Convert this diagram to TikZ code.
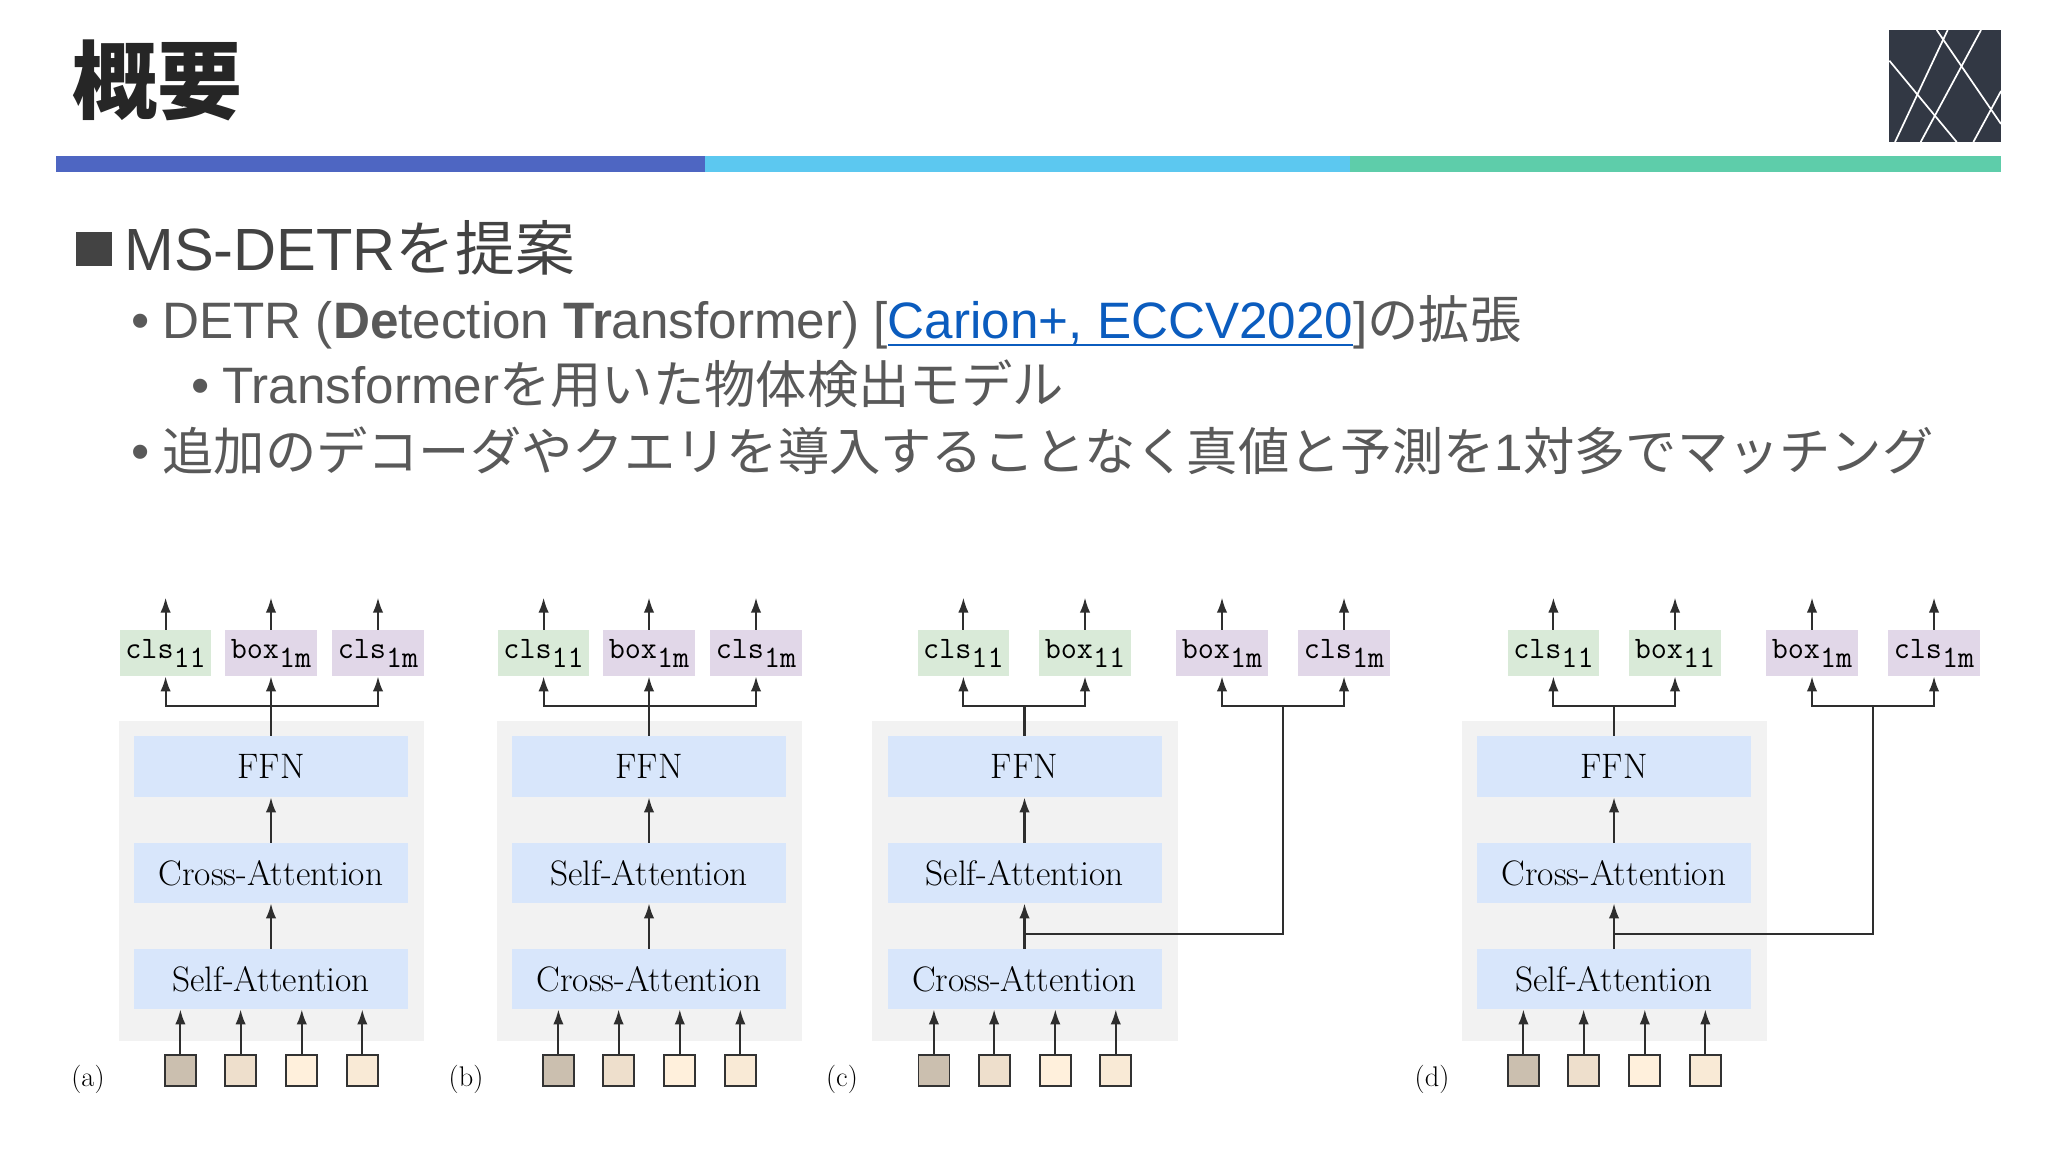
\documentclass[tikz,border=0pt]{standalone}
\usepackage{fontspec}
\usetikzlibrary{arrows.meta}
\setmainfont{Liberation Sans}
\newfontfamily\jp{Noto Sans CJK JP}
\newfontfamily\lm{Latin Modern Roman}
\newfontfamily\lmt{Latin Modern Mono}
\definecolor{txta}{HTML}{434343}
\definecolor{txtb}{HTML}{595959}
\definecolor{linkc}{HTML}{0B5CBE}
\definecolor{arrowc}{HTML}{2E2E2E}
\definecolor{blockc}{HTML}{D8E6FB}
\definecolor{greenc}{HTML}{D9EAD8}
\definecolor{purpc}{HTML}{E1D7E8}
\definecolor{sqa}{HTML}{CBBFAF}
\definecolor{sqb}{HTML}{EEDFCC}
\definecolor{sqc}{HTML}{FFF0DC}
\definecolor{sqd}{HTML}{F9EAD6}
\definecolor{bara}{HTML}{4E66C2}
\definecolor{barb}{HTML}{5CC8F0}
\definecolor{barc}{HTML}{5ECDAA}
\definecolor{logoc}{HTML}{323844}
\tikzset{
 x=0.5pt,y=-0.5pt,
 hdr/.style={inner sep=0pt,anchor=base west},
 conn/.style={draw=arrowc,line width=1.05pt},
 arr/.style={conn,-{Latex[length=7.5pt,width=5.2pt]}},
 panelbg/.style={fill=black!5,draw=none,inner sep=0pt,minimum width=152.6pt,minimum height=160pt},
 blk/.style={fill=blockc,inner sep=0pt,minimum width=137pt,text=black,font=\lm\fontsize{17.7}{17.7}\selectfont},
 lblg/.style={fill=greenc,inner sep=0pt,minimum width=45.6pt,minimum height=23pt,text=black},
 lblp/.style={fill=purpc,inner sep=0pt,minimum width=45.6pt,minimum height=23pt,text=black},
 sqbox/.style={draw=black!80,line width=0.9pt,inner sep=0pt,minimum width=15.5pt,minimum height=15.5pt},
 figcap/.style={inner sep=0pt,text=black,font=\lm\fontsize{14.2}{14.2}\selectfont},
 barbox/.style={inner sep=0pt,minimum height=8pt,anchor=north west},
}
\newcommand{\lbl}[2]{\raisebox{1pt}{\lmt\fontsize{15.6}{15.6}\selectfont #1}\raisebox{-3.5pt}{\lmt\fontsize{15.6}{15.6}\selectfont #2}}
\newcommand{\ulk}[1]{\vtop{\hbox{\smash{#1}}\kern2.9pt\hrule height 1pt}}
\newcommand{\stack}[5]{%
 \node[panelbg] (#1g) at (#2+271.5,881) {};
 \node[blk,minimum height=30.5pt] (#1f) at (#2+271,766.5) {#3};
 \node[blk,minimum height=30pt] (#1m) at (#2+271,873) {#4};
 \node[blk,minimum height=30pt] (#1b) at (#2+271,979) {#5};
 \draw[arr] (#1m.north) -- (#1f.south);
 \foreach \i/\c/\xx in {1/sqa/180.4,2/sqb/240.6,3/sqc/301.8,4/sqd/362.3}{
  \node[sqbox,fill=\c] (#1s\i) at (#2+\xx,1070.5) {};
  \draw[arr] (#1s\i.north) -- (#1s\i.north |- #1b.south);
 }
}
\begin{document}
\begin{tikzpicture}
\useasboundingbox (0,0) rectangle (2048,1152);
\fill[white] (0,0) rectangle (2048,1152);
% header bars
\node[barbox,fill=bara,minimum width=324.5pt] (bar1) at (56,156) {};
\node[barbox,fill=barb,minimum width=322.5pt] (bar2) at (705,156) {};
\node[barbox,fill=barc,minimum width=325.5pt] (bar3) at (1350,156) {};
% logo
\fill[logoc] (1889,30) rectangle (2001,142);
\begin{scope}[shift={(1780,10)},x=0.16667pt,y=-0.16667pt,draw=white,line width=0.85pt]
\draw (328,152) -- (530,396);
\draw (470,60) -- (663,342);
\draw (503,60) -- (345,396);
\draw (603,60) -- (422,396);
\draw (663,243) -- (580,396);
\end{scope}
% title
\node[hdr,font=\jp\bfseries\fontsize{42.5}{42.5}\selectfont,text=black!85] (title) at (72,112) {概要};
% bullets
\fill[txta] (76,232) rectangle (111.6,266);
\node[hdr,text=txta,font=\fontsize{29.8}{29.8}\selectfont] (l1) at (124,270) {MS-DETR{\jp\fontsize{29.8}{29.8}\selectfont を提案}};
\node[hdr,text=txtb,font=\fontsize{26}{26}\selectfont] (b2) at (131,338) {•};
\node[hdr,text=txtb,font=\fontsize{25.6}{25.6}\selectfont] (l2) at (162,338) {DETR (\textbf{De}tection \textbf{Tr}ansformer) [{\color{linkc}\ulk{Carion+, ECCV2020}}]{\jp\fontsize{25.65}{25.65}\selectfont の拡張}};
\node[hdr,text=txtb,font=\fontsize{26}{26}\selectfont] (b3) at (191,403) {•};
\node[hdr,text=txtb,font=\fontsize{25.6}{25.6}\selectfont] (l3) at (222,403) {Transformer{\jp\fontsize{25.65}{25.65}\selectfont を用いた物体検出モデル}};
\node[hdr,text=txtb,font=\fontsize{26}{26}\selectfont] (b4) at (131,469) {•};
\node[hdr,text=txtb,font=\fontsize{25.6}{25.6}\selectfont] (l4) at (162,470) {{\jp\fontsize{25.65}{25.65}\selectfont 追加のデコーダやクエリを導入することなく真値と予測を}1{\jp\fontsize{25.65}{25.65}\selectfont 対多でマッチング}};
% panel a
\stack{a}{0}{FFN}{Cross-Attention}{Self-Attention}
\node[lblg] (a1) at (165.6,653) {\lbl{cls}{11}};
\node[lblp] (a2) at (271,653) {\lbl{box}{1m}};
\node[lblp] (a3) at (378,653) {\lbl{cls}{1m}};
\draw[arr] (ab.north) -- (am.south);
\coordinate (aj) at (271,706);
\draw[conn] (af.north) -- (aj);
\draw[arr] (aj) -| (a1.south);
\draw[arr] (aj) -- (a2.south);
\draw[arr] (aj) -| (a3.south);
\foreach \i in {1,2,3}{\coordinate (t) at (a\i.north); \draw[arr] (t) -- ++(0,-32);}
\node[figcap] (capa) at (88,1079) {(a)};
% panel b
\stack{b}{378}{FFN}{Self-Attention}{Cross-Attention}
\node[lblg] (b1) at (543.6,653) {\lbl{cls}{11}};
\node[lblp] (b2) at (649,653) {\lbl{box}{1m}};
\node[lblp] (b3) at (756,653) {\lbl{cls}{1m}};
\draw[arr] (bb.north) -- (bm.south);
\coordinate (bj) at (649,706);
\draw[conn] (bf.north) -- (bj);
\draw[arr] (bj) -| (b1.south);
\draw[arr] (bj) -- (b2.south);
\draw[arr] (bj) -| (b3.south);
\foreach \i in {1,2,3}{\coordinate (t) at (b\i.north); \draw[arr] (t) -- ++(0,-32);}
\node[figcap] (capb) at (466,1079) {(b)};
% panel c
\stack{c}{753.5}{FFN}{Self-Attention}{Cross-Attention}
\node[lblg] (c1) at (963.4,653) {\lbl{cls}{11}};
\node[lblg] (c2) at (1085,653) {\lbl{box}{11}};
\node[lblp] (c3) at (1222,653) {\lbl{box}{1m}};
\node[lblp] (c4) at (1344,653) {\lbl{cls}{1m}};
\draw[arr] (cb.north) -- (cm.south);
\coordinate (cj) at (1024.5,706);
\coordinate (ck) at (1283,706);
\coordinate (cl) at (1283,934);
\coordinate (ci) at (1024.5,934);
\draw[conn] (cf.north) -- (cj);
\draw[arr] (cj) -| (c1.south);
\draw[arr] (cj) -| (c2.south);
\draw[arr] (ck) -| (c3.south);
\draw[arr] (ck) -| (c4.south);
\draw[conn] (ck) -- (cl) -- (ci);
\foreach \i in {1,2,3,4}{\coordinate (t) at (c\i.north); \draw[arr] (t) -- ++(0,-32);}
\node[figcap] (capc) at (842,1079) {(c)};
% panel d
\stack{d}{1343}{FFN}{Cross-Attention}{Self-Attention}
\node[lblg] (d1) at (1553.4,653) {\lbl{cls}{11}};
\node[lblg] (d2) at (1675,653) {\lbl{box}{11}};
\node[lblp] (d3) at (1812,653) {\lbl{box}{1m}};
\node[lblp] (d4) at (1934,653) {\lbl{cls}{1m}};
\draw[arr] (db.north) -- (dm.south);
\coordinate (dj) at (1614,706);
\coordinate (dk) at (1873,706);
\coordinate (dl) at (1873,934);
\coordinate (di) at (1614,934);
\draw[conn] (df.north) -- (dj);
\draw[arr] (dj) -| (d1.south);
\draw[arr] (dj) -| (d2.south);
\draw[arr] (dk) -| (d3.south);
\draw[arr] (dk) -| (d4.south);
\draw[conn] (dk) -- (dl) -- (di);
\foreach \i in {1,2,3,4}{\coordinate (t) at (d\i.north); \draw[arr] (t) -- ++(0,-32);}
\node[figcap] (capd) at (1432,1079) {(d)};
\end{tikzpicture}
\end{document}
